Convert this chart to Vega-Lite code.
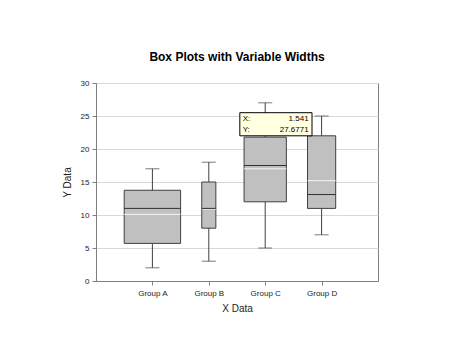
{
  "$schema": "https://vega.github.io/schema/vega-lite/v6.json",
  "autosize": "none",
  "width": 282,
  "height": 198,
  "padding": {"left": 96, "top": 83, "right": 96, "bottom": 74},
  "background": "white",
  "title": {"text": "Box Plots with Variable Widths", "font": "Liberation Sans", "fontSize": 12, "fontWeight": "bold", "color": "#000000", "offset": 15, "anchor": "middle"},
  "config": {
    "view": {"stroke": "#808080", "strokeWidth": 1},
    "axis": {"labelFont": "Liberation Sans", "titleFont": "Liberation Sans", "labelFontSize": 8, "titleFontSize": 10, "labelColor": "#222222", "titleColor": "#222222", "domainColor": "#808080", "tickColor": "#808080", "titleFontWeight": "normal", "labelOverlap": false}
  },
  "datasets": {
    "boxes": [
      {"group": "Group A", "pos": 1, "left": 0.5, "right": 1.5, "lo": 2, "q1": 5.7, "med": 11, "q3": 13.75, "hi": 17, "mean": 10.1},
      {"group": "Group B", "pos": 2, "left": 1.875, "right": 2.125, "lo": 3, "q1": 8, "med": 11, "q3": 15, "hi": 18, "mean": 10.9},
      {"group": "Group C", "pos": 3, "left": 2.625, "right": 3.375, "lo": 5, "q1": 12, "med": 17.5, "q3": 21.8, "hi": 27, "mean": 17},
      {"group": "Group D", "pos": 4, "left": 3.75, "right": 4.25, "lo": 7, "q1": 11, "med": 13.1, "q3": 22, "hi": 25, "mean": 15.2}
    ],
    "tip": [
      {"x1": 2.55, "x2": 3.83, "y1": 22.0, "y2": 25.5}
    ],
    "tiptext": [
      {"lx": 2.6, "rx": 3.77, "y": 24.55, "label": "X:", "value": "1.541"},
      {"lx": 2.6, "rx": 3.77, "y": 22.95, "label": "Y:", "value": "27.6771"}
    ]
  },
  "layer": [
    {
      "data": {"name": "boxes"},
      "mark": {"type": "rule", "color": "#404040", "strokeWidth": 1},
      "encoding": {
        "x": {"field": "pos", "type": "quantitative", "scale": {"domain": [0, 5], "nice": false, "zero": false},
              "axis": {"values": [1, 2, 3, 4], "grid": false, "title": "X Data", "titlePadding": 6, "labelPadding": 4, "tickSize": 4,
                       "labelExpr": "['', 'Group A', 'Group B', 'Group C', 'Group D'][datum.value]"}},
        "y": {"field": "lo", "type": "quantitative", "scale": {"domain": [0, 30], "nice": false},
              "axis": {"values": [0, 5, 10, 15, 20, 25, 30], "grid": true, "gridColor": "#d8d8d8", "title": "Y Data", "titlePadding": 8, "tickSize": 4, "labelPadding": 3}},
        "y2": {"field": "hi"}
      }
    },
    {
      "data": {"name": "boxes"},
      "mark": {"type": "tick", "orient": "horizontal", "size": 14, "color": "#404040", "thickness": 1},
      "encoding": {
        "x": {"field": "pos", "type": "quantitative", "axis": {"values": [1, 2, 3, 4], "grid": false, "title": "X Data", "titlePadding": 6, "labelPadding": 4, "tickSize": 4, "labelExpr": "['', 'Group A', 'Group B', 'Group C', 'Group D'][datum.value]"}},
        "y": {"field": "hi", "type": "quantitative", "axis": {"values": [0, 5, 10, 15, 20, 25, 30], "grid": true, "gridColor": "#d8d8d8", "title": "Y Data", "titlePadding": 8, "tickSize": 4, "labelPadding": 3}}
      }
    },
    {
      "data": {"name": "boxes"},
      "mark": {"type": "tick", "orient": "horizontal", "size": 14, "color": "#404040", "thickness": 1},
      "encoding": {
        "x": {"field": "pos", "type": "quantitative", "axis": {"values": [1, 2, 3, 4], "grid": false, "title": "X Data", "titlePadding": 6, "labelPadding": 4, "tickSize": 4, "labelExpr": "['', 'Group A', 'Group B', 'Group C', 'Group D'][datum.value]"}},
        "y": {"field": "lo", "type": "quantitative", "axis": {"values": [0, 5, 10, 15, 20, 25, 30], "grid": true, "gridColor": "#d8d8d8", "title": "Y Data", "titlePadding": 8, "tickSize": 4, "labelPadding": 3}}
      }
    },
    {
      "data": {"name": "boxes"},
      "mark": {"type": "rect", "fill": "#c0c0c0", "stroke": "#404040", "strokeWidth": 1},
      "encoding": {
        "x": {"field": "left", "type": "quantitative", "axis": {"values": [1, 2, 3, 4], "grid": false, "title": "X Data", "titlePadding": 6, "labelPadding": 4, "tickSize": 4, "labelExpr": "['', 'Group A', 'Group B', 'Group C', 'Group D'][datum.value]"}},
        "x2": {"field": "right"},
        "y": {"field": "q1", "type": "quantitative", "axis": {"values": [0, 5, 10, 15, 20, 25, 30], "grid": true, "gridColor": "#d8d8d8", "title": "Y Data", "titlePadding": 8, "tickSize": 4, "labelPadding": 3}},
        "y2": {"field": "q3"}
      }
    },
    {
      "data": {"name": "boxes"},
      "mark": {"type": "rule", "color": "#f4f4f4", "strokeWidth": 1},
      "encoding": {
        "x": {"field": "left", "type": "quantitative", "axis": {"values": [1, 2, 3, 4], "grid": false, "title": "X Data", "titlePadding": 6, "labelPadding": 4, "tickSize": 4, "labelExpr": "['', 'Group A', 'Group B', 'Group C', 'Group D'][datum.value]"}},
        "x2": {"field": "right"},
        "y": {"field": "mean", "type": "quantitative", "axis": {"values": [0, 5, 10, 15, 20, 25, 30], "grid": true, "gridColor": "#d8d8d8", "title": "Y Data", "titlePadding": 8, "tickSize": 4, "labelPadding": 3}}
      }
    },
    {
      "data": {"name": "boxes"},
      "mark": {"type": "rule", "color": "#303030", "strokeWidth": 1},
      "encoding": {
        "x": {"field": "left", "type": "quantitative", "axis": {"values": [1, 2, 3, 4], "grid": false, "title": "X Data", "titlePadding": 6, "labelPadding": 4, "tickSize": 4, "labelExpr": "['', 'Group A', 'Group B', 'Group C', 'Group D'][datum.value]"}},
        "x2": {"field": "right"},
        "y": {"field": "med", "type": "quantitative", "axis": {"values": [0, 5, 10, 15, 20, 25, 30], "grid": true, "gridColor": "#d8d8d8", "title": "Y Data", "titlePadding": 8, "tickSize": 4, "labelPadding": 3}}
      }
    },
    {
      "data": {"name": "tip"},
      "mark": {"type": "rect", "fill": "#ffffe1", "stroke": "#000000", "strokeWidth": 1},
      "encoding": {
        "x": {"field": "x1", "type": "quantitative", "axis": {"values": [1, 2, 3, 4], "grid": false, "title": "X Data", "titlePadding": 6, "labelPadding": 4, "tickSize": 4, "labelExpr": "['', 'Group A', 'Group B', 'Group C', 'Group D'][datum.value]"}},
        "x2": {"field": "x2"},
        "y": {"field": "y1", "type": "quantitative", "axis": {"values": [0, 5, 10, 15, 20, 25, 30], "grid": true, "gridColor": "#d8d8d8", "title": "Y Data", "titlePadding": 8, "tickSize": 4, "labelPadding": 3}},
        "y2": {"field": "y2"}
      }
    },
    {
      "data": {"name": "tiptext"},
      "mark": {"type": "text", "align": "left", "baseline": "middle", "font": "Liberation Sans", "fontSize": 8, "color": "#000000"},
      "encoding": {
        "x": {"field": "lx", "type": "quantitative", "axis": {"values": [1, 2, 3, 4], "grid": false, "title": "X Data", "titlePadding": 6, "labelPadding": 4, "tickSize": 4, "labelExpr": "['', 'Group A', 'Group B', 'Group C', 'Group D'][datum.value]"}},
        "y": {"field": "y", "type": "quantitative", "axis": {"values": [0, 5, 10, 15, 20, 25, 30], "grid": true, "gridColor": "#d8d8d8", "title": "Y Data", "titlePadding": 8, "tickSize": 4, "labelPadding": 3}},
        "text": {"field": "label"}
      }
    },
    {
      "data": {"name": "tiptext"},
      "mark": {"type": "text", "align": "right", "baseline": "middle", "font": "Liberation Sans", "fontSize": 8, "color": "#000000"},
      "encoding": {
        "x": {"field": "rx", "type": "quantitative", "axis": {"values": [1, 2, 3, 4], "grid": false, "title": "X Data", "titlePadding": 6, "labelPadding": 4, "tickSize": 4, "labelExpr": "['', 'Group A', 'Group B', 'Group C', 'Group D'][datum.value]"}},
        "y": {"field": "y", "type": "quantitative", "axis": {"values": [0, 5, 10, 15, 20, 25, 30], "grid": true, "gridColor": "#d8d8d8", "title": "Y Data", "titlePadding": 8, "tickSize": 4, "labelPadding": 3}},
        "text": {"field": "value"}
      }
    }
  ]
}
